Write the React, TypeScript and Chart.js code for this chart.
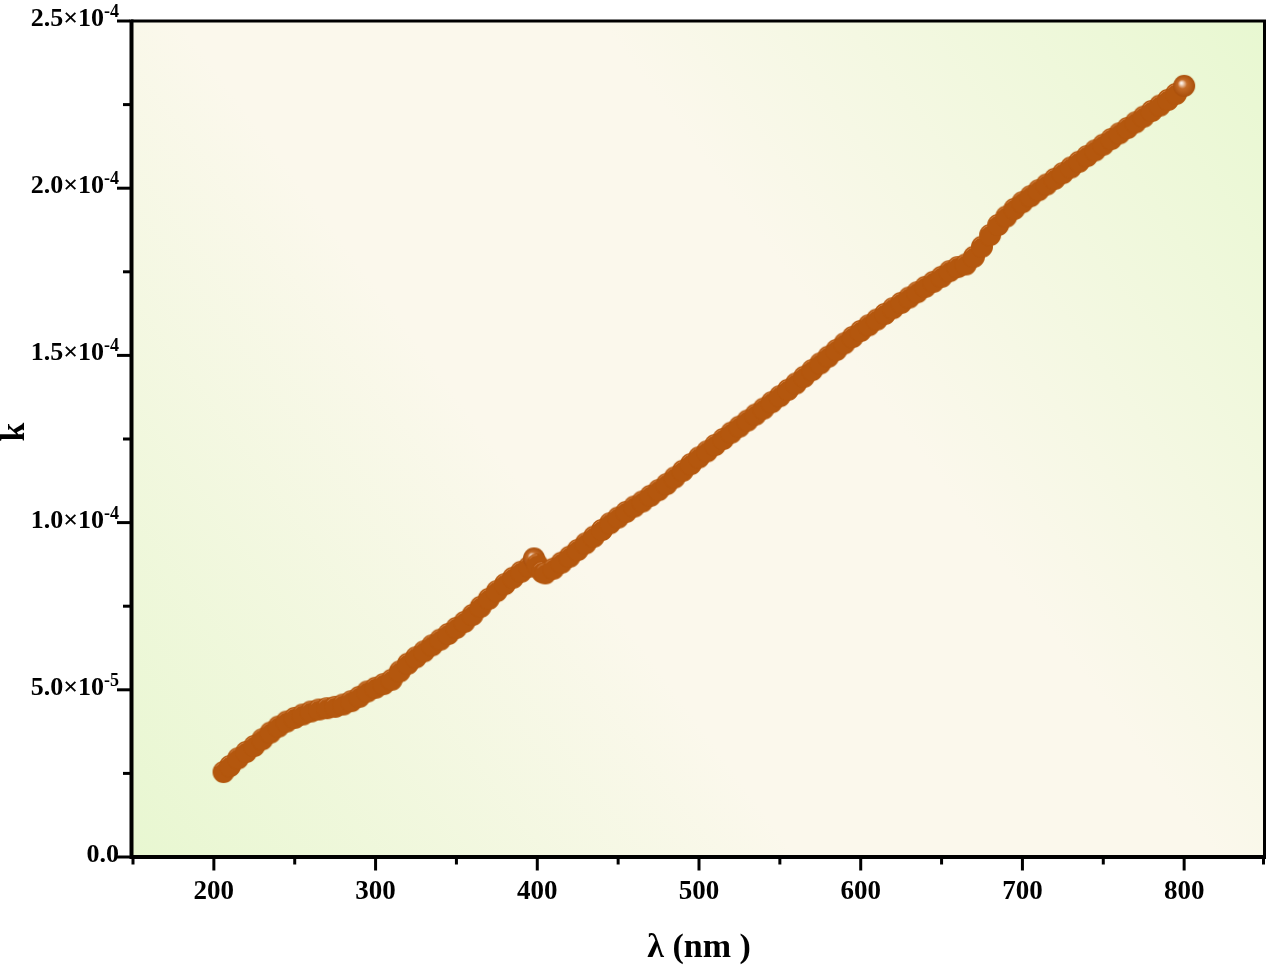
import { useEffect, useRef } from "react";
import { Chart, registerables } from "chart.js";

Chart.register(...registerables);

// Wavelength (nm)
const wavelengths = [
  206, 210, 215, 220, 225, 230, 235, 240, 245, 250, 255, 260, 265, 270, 275, 280, 285, 290, 295, 300,
  305, 310, 315, 320, 325, 330, 335, 340, 345, 350, 355, 360, 365, 370, 375, 380, 385, 390, 395, 398,
  400, 403, 405, 410, 415, 420, 425, 430, 435, 440, 445, 450, 455, 460, 465, 470, 475, 480, 485, 490,
  495, 500, 505, 510, 515, 520, 525, 530, 535, 540, 545, 550, 555, 560, 565, 570, 575, 580, 585, 590,
  595, 600, 605, 610, 615, 620, 625, 630, 635, 640, 645, 650, 655, 660, 665, 670, 675, 680, 685, 690,
  695, 700, 705, 710, 715, 720, 725, 730, 735, 740, 745, 750, 755, 760, 765, 770, 775, 780, 785, 790,
  795, 800,
];

// Extinction coefficient k, in units of 1e-5
const kValues = [
  2.54, 2.72, 2.95, 3.14, 3.32, 3.52, 3.72, 3.9, 4.05, 4.16, 4.26, 4.35, 4.41, 4.45, 4.49, 4.56, 4.66, 4.79, 4.95, 5.06,
  5.17, 5.3, 5.55, 5.78, 5.97, 6.15, 6.33, 6.5, 6.67, 6.85, 7.03, 7.24, 7.48, 7.72, 7.95, 8.16, 8.35, 8.53, 8.68, 8.93,
  8.75, 8.52, 8.48, 8.62, 8.8, 8.98, 9.18, 9.38, 9.58, 9.78, 9.98, 10.15, 10.32, 10.48, 10.63, 10.8, 10.97, 11.15, 11.35, 11.55,
  11.75, 11.95, 12.13, 12.32, 12.5, 12.69, 12.87, 13.05, 13.23, 13.41, 13.6, 13.78, 13.97, 14.16, 14.36, 14.56, 14.76, 14.96, 15.16, 15.36,
  15.55, 15.73, 15.9, 16.07, 16.24, 16.41, 16.57, 16.73, 16.89, 17.05, 17.2, 17.35, 17.52, 17.64, 17.72, 17.95, 18.25, 18.6, 18.9, 19.15,
  19.38, 19.58, 19.76, 19.94, 20.11, 20.28, 20.45, 20.62, 20.79, 20.96, 21.13, 21.3, 21.47, 21.64, 21.8, 21.97, 22.14, 22.31, 22.47, 22.64,
  22.82, 23.06,
];

const highlightWavelengths = [398, 800];

const xTickValues = [200, 300, 400, 500, 600, 700, 800];
const xMinorTickValues = [150, 250, 350, 450, 550, 650, 750, 850];
const yTickValues = [0, 5e-5, 1e-4, 1.5e-4, 2e-4, 2.5e-4];
const yMinorTickValues = [2.5e-5, 7.5e-5, 1.25e-4, 1.75e-4, 2.25e-4];
const yTickMantissas = ["0.0", "5.0\u00d710", "1.0\u00d710", "1.5\u00d710", "2.0\u00d710", "2.5\u00d710"];
const yTickExponents = ["", "-5", "-4", "-4", "-4", "-4"];

const xTitle = "\u03bb (nm )";
const yTitle = "k";

const FONT = '"Liberation Serif", "Times New Roman", serif';
const MARKER = "#b4570e";

function makeSprite(r: number, glossy: boolean): HTMLCanvasElement {
  const c = document.createElement("canvas");
  const size = Math.ceil(2 * r + 2);
  c.width = size;
  c.height = size;
  const g = c.getContext("2d")!;
  const cx = size / 2;
  const cy = size / 2;
  if (glossy) {
    const grad = g.createRadialGradient(cx - 3, cy - 3, 0, cx, cy, r);
    grad.addColorStop(0, "#ffffff");
    grad.addColorStop(0.14, "#f2d8c4");
    grad.addColorStop(0.42, "#c46b27");
    grad.addColorStop(1, "#a94f0b");
    g.fillStyle = grad;
  } else {
    g.fillStyle = MARKER;
  }
  g.beginPath();
  g.arc(cx, cy, r, 0, Math.PI * 2);
  g.fill();
  if (!glossy) {
    g.strokeStyle = "rgba(225,160,110,0.55)";
    g.lineWidth = 1;
    g.beginPath();
    g.arc(cx, cy, r - 1.5, Math.PI * 1.2, Math.PI * 1.5);
    g.stroke();
  }
  return c;
}

const decorPlugin = {
  id: "decor",
  beforeDraw(chart: any) {
    const { ctx, chartArea: a } = chart;
    const grad = ctx.createLinearGradient(a.left, a.bottom, a.right, a.top);
    grad.addColorStop(0, "#e8f7d1");
    grad.addColorStop(0.38, "#fbf8ec");
    grad.addColorStop(0.62, "#fbf8ec");
    grad.addColorStop(1, "#e8f8d1");
    ctx.save();
    ctx.fillStyle = "#ffffff";
    ctx.fillRect(0, 0, chart.width, chart.height);
    ctx.fillStyle = grad;
    ctx.fillRect(a.left, a.top, a.right - a.left, a.bottom - a.top);
    ctx.restore();
  },
  afterDraw(chart: any) {
    const { ctx, chartArea: a } = chart;
    const xs = chart.scales.x;
    const ys = chart.scales.y;
    ctx.save();
    ctx.strokeStyle = "#000";
    ctx.lineCap = "butt";

    // frame: thin top/right, thick left/bottom
    ctx.lineWidth = 3;
    ctx.beginPath();
    ctx.moveTo(a.left - 2, a.top);
    ctx.lineTo(a.right - 0.5, a.top);
    ctx.lineTo(a.right - 0.5, a.bottom);
    ctx.stroke();
    ctx.lineWidth = 4;
    ctx.beginPath();
    ctx.moveTo(a.left - 1.5, a.top - 1.5);
    ctx.lineTo(a.left - 1.5, a.bottom);
    ctx.lineTo(a.right + 1, a.bottom);
    ctx.stroke();

    // ticks
    ctx.lineWidth = 3;
    const axisX = a.left - 3;
    yTickValues.forEach((v) => {
      const y = ys.getPixelForValue(v);
      ctx.beginPath();
      ctx.moveTo(axisX, y);
      ctx.lineTo(axisX - 13, y);
      ctx.stroke();
    });
    yMinorTickValues.forEach((v) => {
      const y = ys.getPixelForValue(v);
      ctx.beginPath();
      ctx.moveTo(axisX, y);
      ctx.lineTo(axisX - 7, y);
      ctx.stroke();
    });
    const axisY = a.bottom + 1.5;
    xTickValues.forEach((v) => {
      const x = xs.getPixelForValue(v);
      ctx.beginPath();
      ctx.moveTo(x, axisY);
      ctx.lineTo(x, axisY + 12);
      ctx.stroke();
    });
    xMinorTickValues.forEach((v) => {
      const x = Math.min(xs.getPixelForValue(v), a.right - 1.5);
      ctx.beginPath();
      ctx.moveTo(x, axisY);
      ctx.lineTo(x, axisY + 6);
      ctx.stroke();
    });

    // x tick labels
    ctx.fillStyle = "#000";
    ctx.font = `bold 27px ${FONT}`;
    ctx.textAlign = "center";
    ctx.textBaseline = "alphabetic";
    xTickValues.forEach((v) => {
      ctx.fillText(String(v), xs.getPixelForValue(v), 899);
    });

    // y tick labels with superscript exponent
    const rightEdge = 119;
    yTickValues.forEach((v, i) => {
      const y = ys.getPixelForValue(v);
      const exp = yTickExponents[i];
      let right = rightEdge;
      ctx.textAlign = "right";
      if (exp) {
        ctx.font = `bold 18px ${FONT}`;
        ctx.fillText(exp, right, y - 4);
        right -= ctx.measureText(exp).width;
      }
      ctx.font = `bold 26px ${FONT}`;
      ctx.fillText(yTickMantissas[i], right, y + 5);
    });

    // axis titles
    ctx.font = `bold 34px ${FONT}`;
    ctx.textAlign = "center";
    ctx.textBaseline = "middle";
    ctx.fillText(xTitle, (a.left + a.right) / 2, 948);
    ctx.save();
    ctx.translate(15, 432);
    ctx.rotate(-Math.PI / 2);
    ctx.fillText(yTitle, 0, 0);
    ctx.restore();

    ctx.restore();
  },
};

export default function App() {
  const ref = useRef<HTMLCanvasElement | null>(null);

  useEffect(() => {
    document.body.style.margin = "0";
    const canvas = ref.current;
    if (!canvas) return;
    const plain = makeSprite(11, false);
    const glossy = makeSprite(11, true);
    const data = wavelengths.map((w, i) => ({ x: w, y: kValues[i] * 1e-5 }));
    const chart = new Chart(canvas, {
      type: "scatter",
      data: {
        datasets: [
          {
            data,
            showLine: false,
            pointStyle: (c: any) =>
              highlightWavelengths.includes(wavelengths[c.dataIndex]) ? glossy : plain,
            pointRadius: 11,
            pointHoverRadius: 11,
            backgroundColor: MARKER,
            borderWidth: 0,
          } as any,
        ],
      },
      options: {
        responsive: false,
        animation: false,
        devicePixelRatio: 1,
        layout: { autoPadding: false, padding: { top: 21, right: 3, left: 0, bottom: 0 } },
        plugins: {
          legend: { display: false },
          tooltip: { enabled: false },
          title: { display: false },
        },
        events: [],
        scales: {
          x: {
            type: "linear",
            min: 150,
            max: 850,
            ticks: { display: false },
            grid: { display: false },
            border: { display: false },
            afterFit: (s: any) => {
              s.height = 115;
            },
          },
          y: {
            type: "linear",
            min: 0,
            max: 2.5e-4,
            ticks: { display: false },
            grid: { display: false },
            border: { display: false },
            afterFit: (s: any) => {
              s.width = 133;
            },
          },
        },
      } as any,
      plugins: [decorPlugin],
    });
    return () => chart.destroy();
  }, []);

  return (
    <div style={{ position: "absolute", left: 0, top: 0, width: 1268, height: 972 }}>
      <canvas ref={ref} width={1268} height={972} style={{ display: "block" }} />
    </div>
  );
}
